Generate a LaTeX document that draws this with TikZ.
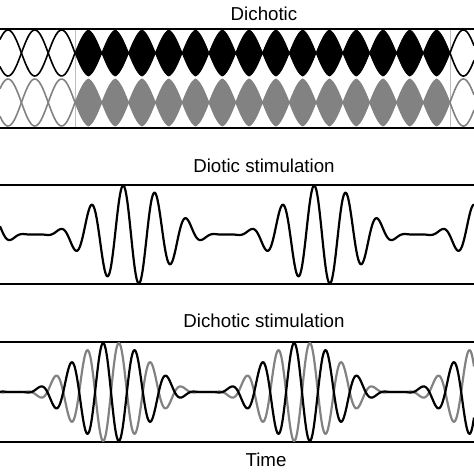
\documentclass[tikz,border=0pt]{standalone}
\usepackage{fontspec}
\setmainfont{Liberation Sans}
\definecolor{wgray}{RGB}{130,130,130}
\definecolor{sepgray}{RGB}{190,190,190}
\begin{document}
\begin{tikzpicture}[x=1pt,y=-1pt,
  declare function={
    h(\d)=(\d<90)*25*(1+cos(2*\d));
    envB(\x)=h(mod(\x-131+382,191))+h(191-mod(\x-131+382,191));
    envC(\x)=h(mod(\x-111+382,191))+h(191-mod(\x-111+382,191));
    ph(\x)=6.72*(\x-75);
    lobe(\x)=0.75*abs(sin(ph(\x)))+0.25*(1-abs(1-2*mod((\x-75)/26.7857,1)));
    carB(\x)=sin(11.3089*(\x-131));
    carC(\x)=sin(11.3089*(\x-111));
  },
  boxline/.style={line width=2pt,black},
  sepline/.style={line width=1pt,sepgray},
  openwave/.style={line width=1.6pt},
  wave/.style={line width=2.2pt,line join=round},
  title/.style={font=\fontsize{18.7}{20}\selectfont,anchor=base,inner sep=0pt}
]
\useasboundingbox (0,0) rectangle (474,474);

% ---------- Panel 1 : Dichotic ----------
\node[title] (t1) at (264,20) {Dichotic};
\draw[sepline] (75,29) -- (75,128);
\draw[sepline] (450,29) -- (450,128);
% black filled lobes
\fill[black,draw=black,line width=0.8pt]
  plot[domain=75:450,samples=561] (\x,{53-23*lobe(\x)}) --
  plot[domain=450:75,samples=561] (\x,{53+23*lobe(\x)}) -- cycle;
% gray filled lobes
\fill[wgray,draw=wgray,line width=0.8pt]
  plot[domain=75:450,samples=561] (\x,{102.5-23.5*lobe(\x)}) --
  plot[domain=450:75,samples=561] (\x,{102.5+23.5*lobe(\x)}) -- cycle;
% open envelopes left and right
\foreach \a/\b in {0/75,450/474}{
  \draw[openwave,black] plot[domain=\a:\b,samples=60,smooth] (\x,{53-23*sin(ph(\x))});
  \draw[openwave,black] plot[domain=\a:\b,samples=60,smooth] (\x,{53+23*sin(ph(\x))});
  \draw[openwave,wgray] plot[domain=\a:\b,samples=60,smooth] (\x,{102.5-23.5*sin(ph(\x))});
  \draw[openwave,wgray] plot[domain=\a:\b,samples=60,smooth] (\x,{102.5+23.5*sin(ph(\x))});
}
\draw[boxline] (0,29) -- (474,29);
\draw[boxline] (0,128) -- (474,128);

% ---------- Panel 2 : Diotic stimulation ----------
\node[title] (t2) at (264,172) {Diotic stimulation};
\draw[boxline] (0,185) -- (474,185);
\draw[boxline] (0,284) -- (474,284);
\draw[wave,black] plot[domain=0:474,samples=500,smooth]
  (\x,{234.5+envB(\x)*carB(\x)});

% ---------- Panel 3 : Dichotic stimulation ----------
\node[title] (t3) at (264,327) {Dichotic stimulation};
\draw[boxline] (0,342) -- (474,342);
\draw[boxline] (0,442) -- (474,442);
\draw[wave,wgray] plot[domain=0:474,samples=500,smooth]
  (\x,{392-envC(\x)*carC(\x)});
\draw[wave,black] plot[domain=0:474,samples=500,smooth]
  (\x,{392+envC(\x)*carC(\x)});

\node[title] (t4) at (266,466) {Time};
\end{tikzpicture}
\end{document}
